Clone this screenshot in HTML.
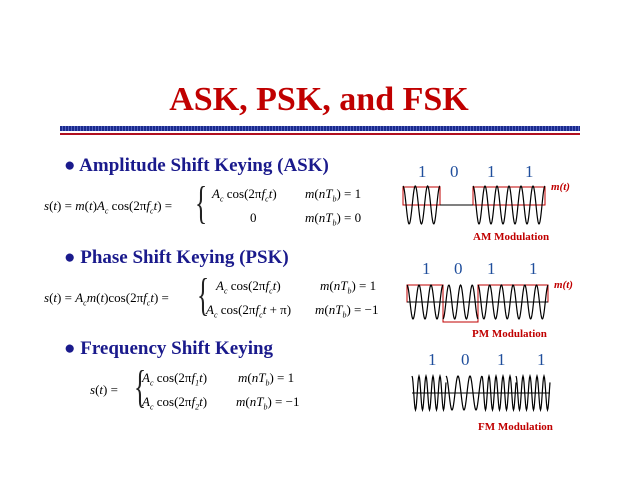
<!DOCTYPE html>
<html><head><meta charset="utf-8"><style>
body{margin:0;width:638px;height:479px;background:#fff;position:relative;overflow:hidden;font-family:"Liberation Serif",serif}
.a{position:absolute;white-space:nowrap}
h1{position:absolute;left:0;width:638px;top:81px;margin:0;text-align:center;color:#c00000;font-size:34px;font-weight:bold;font-family:"Liberation Serif",serif}
.b{color:#1a1a8c;font-weight:bold;font-size:19px}
.f{font-size:13px;color:#000}
.f i{font-style:italic}
.lab{color:#c00000;font-weight:bold;font-size:11px}
.bit{color:#1f4e9c;font-size:17px}
.br{position:absolute;font-size:46px;font-weight:100;color:#222;transform:scaleX(0.55);transform-origin:left}
</style></head><body>
<h1>ASK, PSK, and FSK</h1>
<div class="a" style="left:60px;top:126px;width:520px;height:5px;background:repeating-linear-gradient(90deg,#1a2a8c 0 2px,#5060c0 2px 3px)"></div>
<div class="a" style="left:60px;top:133px;width:520px;height:2px;background:#b01020"></div>

<div class="a b" style="left:64px;top:155px">● Amplitude Shift Keying (ASK)</div>
<div class="a f" style="left:44px;top:198px"><i>s</i>(<i>t</i>) = <i>m</i>(<i>t</i>)<i>A<sub style="font-size:8px">c</sub></i> cos(2π<i>f<sub style="font-size:8px">c</sub>t</i>) =</div>
<div class="br" style="left:195px;top:176px">{</div>
<div class="a f" style="left:212px;top:186px"><i>A<sub style="font-size:8px">c</sub></i> cos(2π<i>f<sub style="font-size:8px">c</sub>t</i>)</div>
<div class="a f" style="left:305px;top:186px"><i>m</i>(<i>nT<sub style="font-size:8px">b</sub></i>) = 1</div>
<div class="a f" style="left:250px;top:210px">0</div>
<div class="a f" style="left:305px;top:210px"><i>m</i>(<i>nT<sub style="font-size:8px">b</sub></i>) = 0</div>

<div class="a b" style="left:64px;top:247px">● Phase Shift Keying (PSK)</div>
<div class="a f" style="left:44px;top:290px"><i>s</i>(<i>t</i>) = <i>A<sub style="font-size:8px">c</sub>m</i>(<i>t</i>)cos(2π<i>f<sub style="font-size:8px">c</sub>t</i>) =</div>
<div class="br" style="left:197px;top:268px">{</div>
<div class="a f" style="left:216px;top:278px"><i>A<sub style="font-size:8px">c</sub></i> cos(2π<i>f<sub style="font-size:8px">c</sub>t</i>)</div>
<div class="a f" style="left:320px;top:278px"><i>m</i>(<i>nT<sub style="font-size:8px">b</sub></i>) = 1</div>
<div class="a f" style="left:206px;top:302px"><i>A<sub style="font-size:8px">c</sub></i> cos(2π<i>f<sub style="font-size:8px">c</sub>t</i> + π)</div>
<div class="a f" style="left:315px;top:302px"><i>m</i>(<i>nT<sub style="font-size:8px">b</sub></i>) = −1</div>

<div class="a b" style="left:64px;top:338px">● Frequency Shift Keying</div>
<div class="a f" style="left:90px;top:382px"><i>s</i>(<i>t</i>) =</div>
<div class="br" style="left:134px;top:360px">{</div>
<div class="a f" style="left:142px;top:370px"><i>A<sub style="font-size:8px">c</sub></i> cos(2π<i>f<sub style="font-size:8px">1</sub>t</i>)</div>
<div class="a f" style="left:238px;top:370px"><i>m</i>(<i>nT<sub style="font-size:8px">b</sub></i>) = 1</div>
<div class="a f" style="left:142px;top:394px"><i>A<sub style="font-size:8px">c</sub></i> cos(2π<i>f<sub style="font-size:8px">2</sub>t</i>)</div>
<div class="a f" style="left:236px;top:394px"><i>m</i>(<i>nT<sub style="font-size:8px">b</sub></i>) = −1</div>

<div class="a bit" style="left:418px;top:162px">1</div><div class="a bit" style="left:450px;top:162px">0</div><div class="a bit" style="left:487px;top:162px">1</div><div class="a bit" style="left:525px;top:162px">1</div>
<div class="a bit" style="left:422px;top:259px">1</div><div class="a bit" style="left:454px;top:259px">0</div><div class="a bit" style="left:487px;top:259px">1</div><div class="a bit" style="left:529px;top:259px">1</div>
<div class="a bit" style="left:428px;top:350px">1</div><div class="a bit" style="left:461px;top:350px">0</div><div class="a bit" style="left:497px;top:350px">1</div><div class="a bit" style="left:537px;top:350px">1</div>
<div class="a lab" style="left:551px;top:181px;font-style:italic">m(t)</div>
<div class="a lab" style="left:473px;top:231px">AM Modulation</div>
<div class="a lab" style="left:554px;top:279px;font-style:italic">m(t)</div>
<div class="a lab" style="left:472px;top:328px">PM Modulation</div>
<div class="a lab" style="left:478px;top:421px">FM Modulation</div>

<svg class="a" style="left:0;top:0" width="638" height="479">
<g fill="none" stroke="#c00000" stroke-width="1">
<rect x="403" y="187" width="37" height="18"/><rect x="473" y="187" width="72" height="18"/>
<line x1="440" y1="205" x2="473" y2="205"/>
<rect x="407" y="285" width="36" height="17"/><rect x="443" y="302" width="35" height="20"/><rect x="478" y="285" width="70" height="17"/>
</g>
<g fill="none" stroke="#000" stroke-width="1.2" id="w"></g>
<line x1="407" y1="302" x2="548" y2="302" stroke="#000"/>
<line x1="412" y1="393" x2="550" y2="393" stroke="#000"/>
<line x1="440" y1="205" x2="473" y2="205" stroke="#000"/>
</svg>
<script>
var g=document.getElementById('w');
function wave(x0,x1,cy,amp,per,ph){var d='';for(var x=x0;x<=x1;x+=0.5){var y=cy-amp*Math.cos(2*Math.PI*(x-x0)/per+ph);d+=(d?'L':'M')+x.toFixed(1)+' '+y.toFixed(1);}var p=document.createElementNS('http://www.w3.org/2000/svg','path');p.setAttribute('d',d);g.appendChild(p);}
wave(403,440,205,19,12.3,0);wave(473,545,205,19,12,0);
wave(407,443,302,17,12,0);wave(443,478,302,17,11.7,Math.PI);wave(478,548,302,17,11.7,0);
wave(412,446,393,17,7,0);wave(446,482,393,17,12,0);wave(482,516,393,17,7,0);wave(516,550,393,17,7,0);
</script>
</body></html>
